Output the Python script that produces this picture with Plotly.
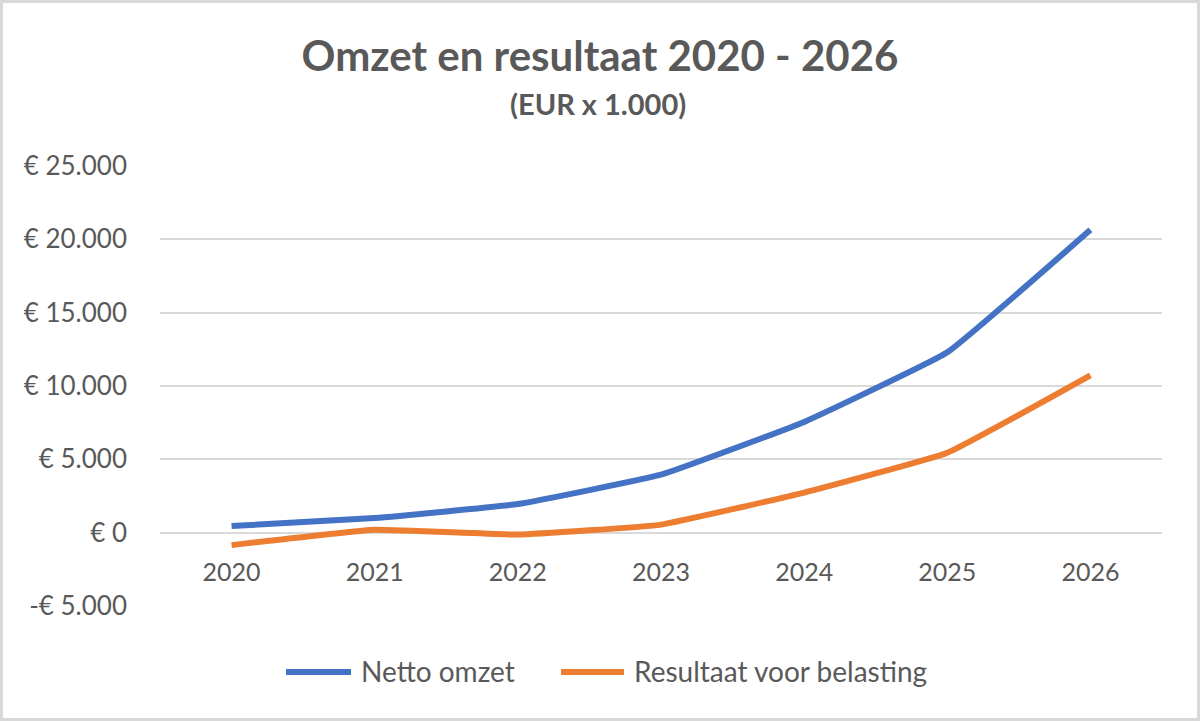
import plotly.graph_objects as go

years = ["2020", "2021", "2022", "2023", "2024", "2025", "2026"]
netto_omzet = [450, 1000, 1950, 3950, 7550, 12300, 20650]
resultaat = [-850, 200, -130, 550, 2730, 5450, 10730]
series_names = ["Netto omzet", "Resultaat voor belasting"]
series_colors = ["#4472C4", "#ED7D31"]
y_tickvals = [-5000, 0, 5000, 10000, 15000, 20000, 25000]
y_ticktext = ["-€ 5.000", "€ 0", "€ 5.000", "€ 10.000", "€ 15.000", "€ 20.000", "€ 25.000"]

FONT = "Lato"
GREY = "#595959"

fig = go.Figure()
for name, vals, col in zip(series_names, [netto_omzet, resultaat], series_colors):
    fig.add_trace(go.Scatter(x=years, y=vals, mode="lines", name=name, showlegend=False,
                             line=dict(color=col, width=6, shape="spline", smoothing=0.3)))

L, R, T, B = 160, 38, 166, 115
W, H = 1200, 721
pw, ph = W - L - R, H - T - B


def px_x(x):
    return (x - L) / pw


def px_y(y):
    return (ph - (y - T)) / ph


fig.update_layout(
    width=W, height=H,
    margin=dict(l=L, r=R, t=T, b=B),
    paper_bgcolor="white", plot_bgcolor="white",
    font=dict(family=FONT, color=GREY, size=24),
    title=dict(text="<b>Omzet en resultaat 2020 - 2026</b>", x=0.5, xanchor="center",
               y=1 - 56 / H, yanchor="middle",
               font=dict(family=FONT, size=42, color=GREY)),
    xaxis=dict(type="category", range=[-0.5, 6.5], showgrid=False, showline=False, ticks="",
               anchor="free", position=1 / 6, tickfont=dict(size=25, color=GREY),
               ticklabelstandoff=22, zeroline=False),
    yaxis=dict(range=[-5000, 25000], tickvals=y_tickvals, ticktext=y_ticktext,
               showgrid=True, gridcolor="#D9D9D9", gridwidth=2, zeroline=False,
               showline=False, ticks="", ticklabelstandoff=32,
               tickfont=dict(size=26, color=GREY)),
    showlegend=False,
)

# subtitle
fig.add_annotation(text="<b>(EUR x 1.000)</b>", xref="paper", yref="paper",
                   x=px_x(598), y=px_y(103), xanchor="center", yanchor="middle",
                   showarrow=False, font=dict(family=FONT, size=29, color=GREY))

# legend (drawn manually to match the long line symbols)
legend_items = [(283, 359), (558, 632)]
for (lx, tx), name, col in zip(legend_items, series_names, series_colors):
    fig.add_shape(type="line", xref="paper", yref="paper",
                  x0=px_x(lx + 3), x1=px_x(tx - 8), y0=px_y(672), y1=px_y(672),
                  line=dict(color=col, width=6))
    fig.add_annotation(text=name, xref="paper", yref="paper", x=px_x(tx), y=px_y(671),
                       xanchor="left", yanchor="middle", showarrow=False,
                       font=dict(family=FONT, size=28, color=GREY))

# chart border
fig.add_shape(type="rect", xref="paper", yref="paper",
              x0=px_x(1.5), x1=px_x(W - 1.5), y0=px_y(H - 1.5), y1=px_y(1.5),
              line=dict(color="#D9D9D9", width=3), fillcolor="rgba(0,0,0,0)", layer="below")

fig.write_html("out.html")
